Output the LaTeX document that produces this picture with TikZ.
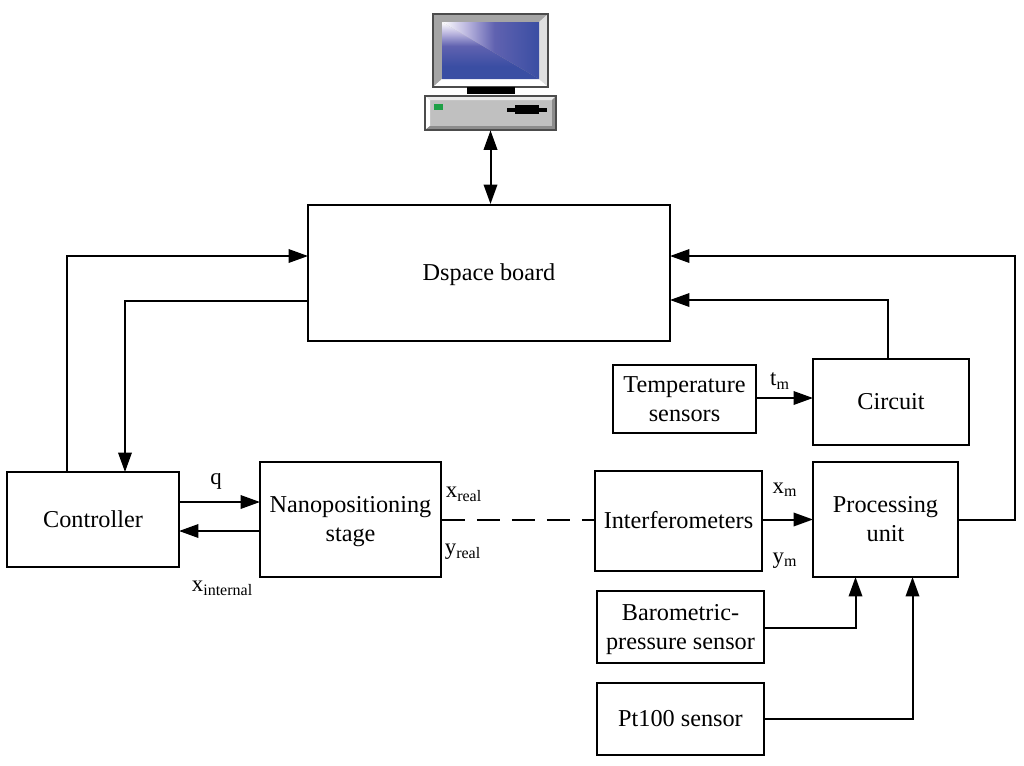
\documentclass[tikz,border=0pt]{standalone}
\usepackage{fontspec}
\setmainfont{Liberation Serif}
\usetikzlibrary{arrows.meta}
\definecolor{screenblue}{RGB}{58,78,163}
\definecolor{screenmid}{RGB}{96,98,176}
\definecolor{screenlilac}{RGB}{185,180,222}
\definecolor{casegray}{RGB}{192,192,192}
\definecolor{bevelgray}{RGB}{165,165,165}
\definecolor{ledgreen}{RGB}{30,160,70}
\pgfdeclarehorizontalshading{screenacross}{100bp}{color(0bp)=(white); color(25bp)=(white); color(38bp)=(screenlilac); color(52bp)=(screenmid); color(75bp)=(screenblue); color(100bp)=(screenblue)}
\pgfdeclareverticalshading{screendown}{100bp}{color(0bp)=(screenblue); color(36bp)=(screenblue); color(54bp)=(screenmid); color(65bp)=(screenlilac); color(75bp)=(white); color(100bp)=(white)}
\begin{document}
\begin{tikzpicture}[
  x=0.02cm, y=-0.02cm,
  box/.style={rectangle, draw, line width=0.04cm, font=\fontsize{13.8}{16.5}\selectfont, align=center, inner sep=0pt, fill=white, text height=10.1pt, text depth=1.5pt},
  twoline/.style={box, text height=26.6pt},
  tag/.style={font=\fontsize{13}{15}\selectfont, inner sep=0pt},
  arrow/.style={-{Triangle[length=0.39cm,width=0.27cm]}, line width=0.04cm, shorten >=-0.02cm},
  twoway/.style={{Triangle[length=0.39cm,width=0.27cm]}-{Triangle[length=0.39cm,width=0.27cm]}, line width=0.04cm},
  pcpart/.style={draw=black!70, line width=0.022cm}
]
\useasboundingbox (0,0) rectangle (1024,765);

% Computer
\fill[bevelgray] (433,14) rectangle (548,87);
\fill[black!12] (539,22) -- (548,14) -- (548,87) -- (539,79) -- cycle;
\fill[white] (442,79) -- (539,79) -- (548,87) -- (433,87) -- cycle;
\draw[pcpart] (433,14) rectangle (548,87);
\shade[shading=screendown] (442,22) -- (539,79) -- (442,79) -- cycle;
\shade[shading=screenacross] (442,22) -- (539,22) -- (539,79) -- cycle;
\fill[black] (467,87) rectangle (515,94);
\node[rectangle, fill=casegray, minimum width=2.62cm, minimum height=0.68cm, inner sep=0pt] (pc) at (490.5,113) {};
\fill[black!8] (425,96) -- (556,96) -- (552,100) -- (430,100) -- cycle;
\fill[white] (425,96) -- (430,100) -- (430,126) -- (425,130) -- cycle;
\fill[black!45] (556,96) -- (556,130) -- (425,130) -- (430,126) -- (552,126) -- (552,100) -- cycle;
\draw[pcpart] (425,96) rectangle (556,130);
\fill[ledgreen] (434,104) rectangle (443,110);
\fill[black] (507,108) rectangle (547,112);
\fill[black] (515,105) rectangle (539,114);

% Blocks
\node[box, minimum width=7.24cm, minimum height=2.72cm] (dspace) at (489,273) {Dspace board};
\node[box, minimum width=3.44cm, minimum height=1.9cm] (controller) at (93,519.5) {Controller};
\node[twoline, minimum width=3.62cm, minimum height=2.3cm] (stage) at (350.5,519.5) {Nanopositioning\\stage};
\node[box, minimum width=3.34cm, minimum height=2cm] (interf) at (678.5,521) {Interferometers};
\node[twoline, minimum width=2.9cm, minimum height=2.3cm] (unit) at (885.5,519.5) {Processing\\unit};
\node[box, minimum width=3.12cm, minimum height=1.72cm] (circuit) at (891,402) {Circuit};
\node[twoline, minimum width=2.86cm, minimum height=1.36cm] (temp) at (684.5,399) {Temperature\\sensors};
\node[twoline, minimum width=3.34cm, minimum height=1.44cm] (baro) at (680.5,627) {Barometric-\\pressure sensor};
\node[box, minimum width=3.34cm, minimum height=1.44cm] (pt) at (680.5,719) {Pt100 sensor};

% Labels
\node[tag] (qlabel) at (216,481) {q};
\node[tag] (xint) at (222.5,588) {x\textsubscript{internal}};
\node[tag] (xreal) at (464,494) {x\textsubscript{real}};
\node[tag] (yreal) at (463,552) {y\textsubscript{real}};
\node[tag] (tm) at (780,381) {t\textsubscript{m}};
\node[tag] (xm) at (785,490) {x\textsubscript{m}};
\node[tag] (ym) at (785,561) {y\textsubscript{m}};

% Connectors
\draw[twoway] (pc.south) -- (pc.south |- dspace.north);
\draw[arrow] ([xshift=-0.52cm]controller.north) |- ([yshift=0.34cm]dspace.west);
\draw[arrow] ([yshift=-0.56cm]dspace.west) -| ([xshift=0.64cm]controller.north);
\draw[arrow] (unit.east) -- ++(56.5,0) |- ([yshift=0.34cm]dspace.east);
\draw[arrow] ([xshift=-0.06cm]circuit.north) |- ([yshift=-0.54cm]dspace.east);
\draw[arrow] ([yshift=0.35cm]controller.east) -- ([yshift=0.35cm]controller.east -| stage.west);
\draw[arrow] ([yshift=-0.23cm]stage.west) -- ([yshift=-0.23cm]stage.west -| controller.east);
\draw[line width=0.04cm, dash pattern=on 0.46cm off 0.24cm] (stage.east) -- (stage.east -| interf.west);
\draw[arrow] (interf.east |- unit.west) -- (unit.west);
\draw[arrow] ([yshift=0.02cm]temp.east) -- ([yshift=0.02cm]temp.east -| circuit.west);
\draw[arrow] ([yshift=-0.02cm]baro.east) -| ([xshift=-0.6cm]unit.south);
\draw[arrow] (pt.east) -| ([xshift=0.54cm]unit.south);

\end{tikzpicture}
\end{document}
